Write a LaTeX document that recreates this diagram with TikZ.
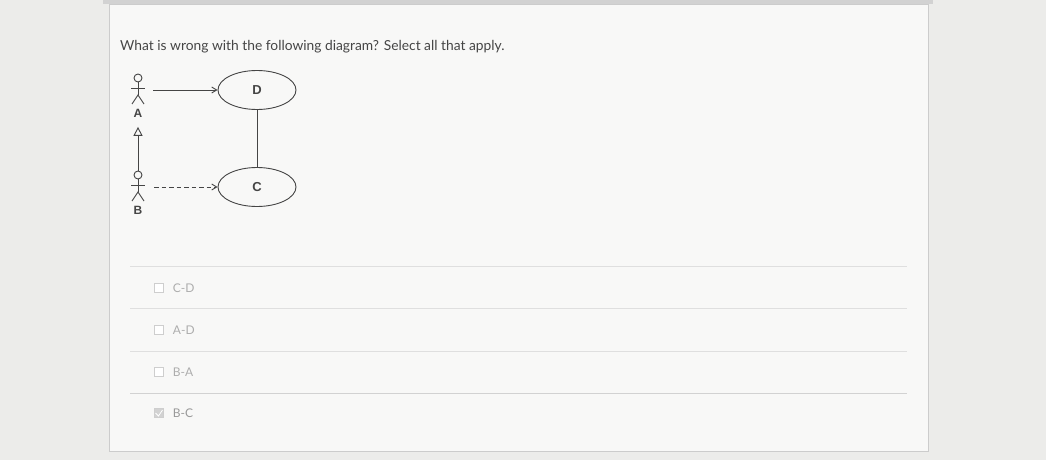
\documentclass[tikz,border=0pt]{standalone}
\usepackage{fontspec}
\setmainfont{Lato}
\newfontfamily\diagfont{Liberation Sans}
\usetikzlibrary{positioning,arrows.meta,shapes.geometric}
\definecolor{pagegray}{rgb}{0.925,0.925,0.918}
\definecolor{panelwhite}{rgb}{0.972,0.972,0.968}
\definecolor{inkgray}{rgb}{0.27,0.27,0.27}
\definecolor{optgray}{rgb}{0.68,0.68,0.68}
\tikzset{
  usecase/.style={ellipse, draw=inkgray, line width=0.9pt, minimum width=78pt, minimum height=39pt, inner sep=0pt, font=\diagfont\bfseries\fontsize{13}{13}\selectfont, text=inkgray},
  actorbox/.style={minimum width=16pt, minimum height=32pt, inner sep=0pt},
  actorlabel/.style={inner sep=0pt, font=\diagfont\bfseries\fontsize{12}{12}\selectfont, text=inkgray},
  assoc/.style={draw=inkgray, line width=0.9pt, -{Straight Barb[length=5pt,width=6pt]}},
  dep/.style={assoc, dashed, dash pattern=on 4.5pt off 3pt},
  gen/.style={draw=inkgray, line width=0.9pt, -{Triangle[open,length=9pt,width=9pt]}},
  optbox/.style={draw=optgray!60, fill=white, minimum size=9pt, inner sep=0pt, line width=0.5pt},
  opttext/.style={anchor=west, inner sep=0pt, text=optgray, font=\fontsize{12}{12}\selectfont},
  stickman/.pic={
    \draw[inkgray, line width=0.9pt] (0,-12) circle (4);
    \draw[inkgray, line width=0.9pt] (0,-8) -- (0,5);
    \draw[inkgray, line width=0.9pt] (-7,-2) -- (7,-2);
    \draw[inkgray, line width=0.9pt] (-6,14) -- (0,5) -- (6,14);
  }
}
\begin{document}
\begin{tikzpicture}[x=1pt,y=-1pt]
  % Page background and question panel
  \fill[pagegray] (0,0) rectangle (1046,460);
  \useasboundingbox (0,0) rectangle (1046,460);
  \fill[gray!35] (103,0) rectangle (933,4);
  \draw[gray!40, fill=panelwhite] (109,4) rectangle (928,451);

  % Question
  \node[anchor=west, inner sep=0pt, text=inkgray, font=\fontsize{13.8}{14}\selectfont] (question) at (120,47)
    {What is wrong with the following diagram? Select all that apply.};

  % Drawing actors A and B
  \node[actorbox] (A) at (138,90) {};
  \pic at (A) {stickman};
  \node[actorlabel, below=3pt of A] (Alabel) {A};
  \node[actorbox] (B) at (138,187) {};
  \pic at (B) {stickman};
  \node[actorlabel, below=3pt of B] (Blabel) {B};

  % Drawing use cases D and C
  \node[usecase] (D) at (257,90) {D};
  \node[usecase] (C) at (257,187) {C};

  % Drawing connectors
  \draw[assoc, shorten <=7pt] (A.east) -- (D.west);
  \draw[dep, shorten <=8pt] (B.east) -- (C.west);
  \draw[draw=inkgray, line width=0.9pt] (D) -- (C);
  \draw[gen, shorten >=9pt] (B.north) -- (Alabel.south);

  % Drawing answer options
  \draw[gray!25] (130,266) -- (907,266);
  \node[optbox] (boxCD) at (159,288) {};
  \node[opttext, right=9pt of boxCD] (optCD) {C-D};
  \draw[gray!25] (130,308) -- (907,308);
  \node[optbox] (boxAD) at (159,330) {};
  \node[opttext, right=9pt of boxAD] (optAD) {A-D};
  \draw[gray!25] (130,351) -- (907,351);
  \node[optbox] (boxBA) at (159,372) {};
  \node[opttext, right=9pt of boxBA] (optBA) {B-A};
  \draw[gray!35] (130,393) -- (907,393);
  \node[optbox, fill=gray!35] (boxBC) at (159,413) {};
  \draw[white, line width=0.8pt] (155.5,413) -- (158.5,416) -- (162.5,410);
  \node[opttext, right=9pt of boxBC, text=gray!80] (optBC) {B-C};
\end{tikzpicture}
\end{document}
